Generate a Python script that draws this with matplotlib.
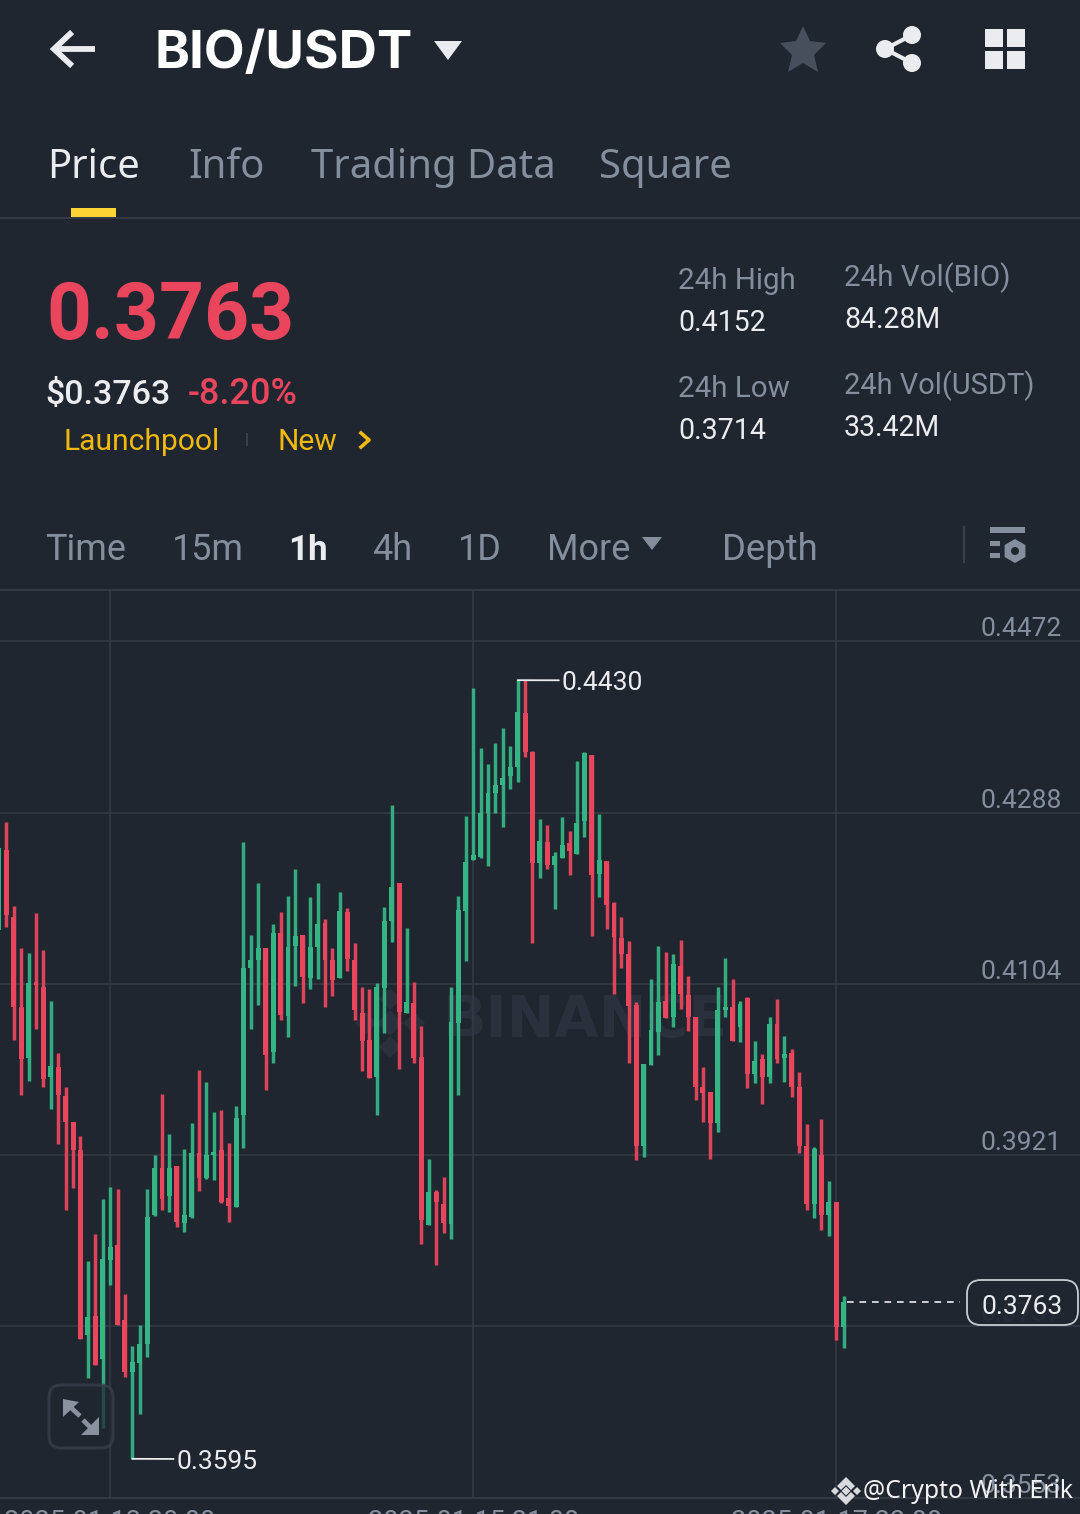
# bio_usdt_chart.py

import matplotlib
matplotlib.use('Agg')
import matplotlib.pyplot as plt
from matplotlib.patches import Polygon, Circle, Rectangle, FancyBboxPatch, RegularPolygon

BG = '#1f2630'
GRID = '#353b46'
RED = '#e9455c'
GREEN = '#35b584'
GREY = '#848e9c'
LIGHT = '#eaecef'
YELLOW = '#f0b90b'
MARK = '#2a313c'
FONT = 'Roboto'
PLEX = 'Noto Sans'

opens = [
    .4162, .4248, .4176, .4080, .4025, .4106, .4101, .4004, .4015, .3984,
    .3956, .3926, .3728, .3748, .3702, .3808, .3824, .3744, .3688, .3698,
    .3718, .3856, .3907, .3877, .3909, .3848, .3854, .3923, .3896, .3921,
    .3926, .3875, .3865, .3964, .4121, .4130, .4143, .4031, .4159, .4070,
    .4145, .4157, .4111, .4144, .4170, .4130, .4111, .4181, .4130, .4073,
    .4044, .4004, .4100, .4172, .4212, .4073, .4084, .4026, .3846, .3881,
    .3868, .3847, .4062, .4183, .4237, .4240, .4288, .4309, .4318, .4327,
    .4337, .4395, .4353, .4234, .4256, .4232, .4239, .4255, .4244, .4279,
    .4350, .4222, .4236, .4191, .4154, .4136, .4082, .3931, .4017, .4053,
    .4086, .4069, .4124, .4092, .4069, .3994, .3988, .3955, .4076, .4079,
    .4058, .4089, .4008, .4024, .4004, .4061, .4025, .4030, .3994, .3930,
    .3868, .3921, .3856, .3870, .3736,
]
closes = [
    .4250, .4178, .4080, .4024, .4105, .4103, .4002, .4016, .3985, .3956,
    .3926, .3724, .3747, .3696, .3809, .3822, .3739, .3688, .3699, .3718,
    .3854, .3907, .3874, .3907, .3849, .3856, .3923, .3896, .3921, .3924,
    .3870, .3866, .3961, .4121, .4130, .4143, .4028, .4159, .4071, .4144,
    .4156, .4112, .4144, .4169, .4130, .4108, .4183, .4131, .4076, .4043,
    .4003, .4101, .4172, .4208, .4074, .4085, .4025, .3851, .3881, .3870,
    .3848, .4063, .4184, .4235, .4243, .4288, .4309, .4318, .4325, .4337,
    .4396, .4353, .4234, .4258, .4232, .4241, .4253, .4247, .4277, .4352,
    .4221, .4237, .4189, .4155, .4136, .4081, .3931, .4018, .4055, .4085,
    .4068, .4126, .4094, .4069, .3994, .3987, .3955, .4076, .4080, .4043,
    .4083, .4008, .4022, .4004, .4061, .4024, .4029, .3994, .3931, .3868,
    .3927, .3856, .3870, .3736, .3763,
]
highs = [
    .4267, .4278, .4188, .4143, .4137, .4180, .4141, .4086, .4030, .3994,
    .3956, .3941, .3807, .3836, .3874, .3886, .3884, .3772, .3716, .3738,
    .3884, .3921, .3986, .3943, .3909, .3927, .3955, .4012, .3999, .3967,
    .3969, .3934, .3973, .4256, .4157, .4213, .4143, .4169, .4181, .4199,
    .4228, .4157, .4198, .4213, .4174, .4143, .4203, .4186, .4148, .4101,
    .4099, .4105, .4187, .4296, .4213, .4164, .4106, .4059, .3916, .3883,
    .3897, .4101, .4199, .4284, .4422, .4357, .4340, .4363, .4379, .4359,
    .4430, .4430, .4354, .4281, .4275, .4246, .4283, .4268, .4343, .4353,
    .4350, .4286, .4236, .4192, .4176, .4150, .4085, .4018, .4110, .4145,
    .4139, .4136, .4151, .4113, .4069, .4015, .3988, .4101, .4132, .4110,
    .4086, .4090, .4043, .4029, .4069, .4088, .4048, .4035, .4010, .3954,
    .3929, .3959, .3893, .3870, .3770,
]
lows = [
    .4118, .4165, .4044, .3985, .4000, .4056, .3994, .3970, .3933, .3862,
    .3885, .3724, .3682, .3696, .3628, .3781, .3739, .3683, .3595, .3643,
    .3704, .3855, .3862, .3860, .3844, .3838, .3853, .3882, .3895, .3894,
    .3869, .3849, .3865, .3928, .4056, .4082, .3990, .4019, .4066, .4047,
    .4102, .4084, .4099, .4110, .4080, .4091, .4111, .4118, .4066, .4011,
    .4003, .3964, .4052, .4149, .4013, .4073, .4019, .3825, .3846, .3803,
    .3837, .3831, .3985, .4129, .4237, .4239, .4231, .4288, .4273, .4313,
    .4321, .4348, .4148, .4218, .4228, .4185, .4239, .4221, .4244, .4262,
    .4156, .4197, .4163, .4094, .4121, .4020, .3915, .3919, .4017, .4028,
    .4068, .4058, .4077, .4054, .3980, .3956, .3916, .3945, .4069, .4043,
    .4042, .3993, .3998, .3976, .3998, .4020, .3999, .3983, .3923, .3862,
    .3853, .3840, .3834, .3722, .3714,
]

price_ticks = [0.4472, 0.4288, 0.4104, 0.3921, 0.3737, 0.3553]
time_tick_idx = [15, 64, 113]
time_tick_labels = ['2025-01-13 20:00', '2025-01-15 21:00', '2025-01-17 22:00']
last_price = 0.3763
high_idx, high_price = 70, 0.4430
low_idx, low_price = 18, 0.3595

fig = plt.figure(figsize=(10.8, 15.14), dpi=100, facecolor=BG)

# watermark sits behind the candles
back = fig.add_axes([0, 0, 1, 1], facecolor=BG, zorder=0)
back.set_xlim(0, 1080)
back.set_ylim(1514, 0)
back.axis('off')
back.text(585, 1021, 'BINANCE', ha='center', va='center', color=MARK, fontsize=41, weight='bold',
          family='DejaVu Sans')
for cx, cy, r in [(390, 1023, 13), (390, 999, 11), (390, 1047, 11), (366, 1023, 11), (414, 1023, 11)]:
    back.add_patch(RegularPolygon((cx, cy), 4, radius=r, color=MARK, lw=0))

# chart area, the page is 1514 px high and the chart runs from 590 to 1498
ax = fig.add_axes([0, 16 / 1514, 1, 908 / 1514], facecolor='none', zorder=1)
ax.set_xlim(0.139, 145.89)
ax.set_ylim(0.3553, 0.45267)
for s in ['left', 'right']:
    ax.spines[s].set_visible(False)
for s in ['top', 'bottom']:
    ax.spines[s].set_color(GRID)
    ax.spines[s].set_linewidth(1.4)
ax.set_xticks([])
ax.set_yticks([])

for p in price_ticks:
    ax.axhline(p, color=GRID, lw=1.1, zorder=1)
    ax.annotate(f'{p:.4f}', xy=(1, p), xycoords=('axes fraction', 'data'),
                xytext=(-18, 12), textcoords='offset pixels', ha='right', va='center',
                color=GREY, fontsize=19, family=FONT, zorder=2)
for i in time_tick_idx:
    ax.axvline(i, color=GRID, lw=1.1, zorder=1)

for i in range(len(opens)):
    col = GREEN if closes[i] >= opens[i] else RED
    ax.vlines(i, lows[i], highs[i], color=col, lw=2.5, zorder=3, alpha=0.95)
    ax.bar(i, abs(closes[i] - opens[i]), bottom=min(opens[i], closes[i]), width=0.66, color=col, zorder=3)

# high, low and last price marks
for idx, p in [(high_idx, high_price), (low_idx, low_price)]:
    ax.annotate(f'{p:.4f}', xy=(idx, p), xytext=(44, -3), textcoords='offset pixels',
                color=LIGHT, fontsize=19, family=FONT, va='center', zorder=5,
                arrowprops=dict(arrowstyle='-', color=LIGHT, lw=1.3, shrinkA=0, shrinkB=0,
                                relpos=(0, 0.62)))
ax.plot([len(opens) - 0.5, 129.7], [last_price, last_price], color=LIGHT, lw=1.2, ls=(0, (4, 3.5)), zorder=4)

# cut off time labels along the bottom edge
for i, t in zip(time_tick_idx, time_tick_labels):
    ax.annotate(t, xy=(i, 0), xycoords=('data', 'axes fraction'), xytext=(0, -25), textcoords='offset pixels',
                ha='center', va='center', color=GREY, fontsize=19.5, family=FONT, annotation_clip=False)

# everything else on a page overlay in pixel coordinates
ui = fig.add_axes([0, 0, 1, 1], facecolor='none', zorder=2)
ui.set_xlim(0, 1080)
ui.set_ylim(1514, 0)
ui.axis('off')


def label(x, y, s, px, color=GREY, weight='normal', ha='left', family=FONT):
    ui.text(x, y + 2, s, fontsize=px * 0.72, color=color, weight=weight, ha=ha, va='center', family=family)


def poly(points, color, z=3):
    ui.add_patch(Polygon(points, closed=True, color=color, lw=0, zorder=z))


# header
ui.plot([56, 95], [49, 49], color=LIGHT, lw=4.2, solid_capstyle='butt')
ui.plot([70, 54, 70], [34, 49, 64], color=LIGHT, lw=4.2, solid_joinstyle='miter')
label(154, 53, 'BIO/USDT', 53, 'white', 'bold', family='Inter')
poly([(434, 41), (462, 41), (448, 60)], LIGHT)

poly([(803, 26), (810, 41), (826, 43), (814, 55), (818, 72), (803, 63),
      (788, 72), (792, 55), (780, 43), (796, 41)], '#474f5c')
ui.plot([912, 885, 912], [35, 49, 63], color=LIGHT, lw=3)
for cx, cy in [(912, 35), (885, 49), (912, 63)]:
    ui.add_patch(Circle((cx, cy), 9, color=LIGHT, lw=0))
for x0 in [985, 1007]:
    for y0 in [29, 51]:
        ui.add_patch(Rectangle((x0, y0), 18, 18, color=LIGHT, lw=0))

# tabs
label(47, 166, 'Price', 40, LIGHT, 'medium', family=PLEX)
label(188, 166, 'Info', 40, family=PLEX)
label(311, 166, 'Trading Data', 40, family=PLEX)
label(599, 166, 'Square', 40, family=PLEX)
ui.add_patch(Rectangle((71, 208), 45, 9, color='#fcd535', lw=0))
ui.plot([0, 1080], [218, 218], color=GRID, lw=1.4)

# price block
label(46, 315, '0.3763', 78.5, RED, 'bold')
label(45, 393, '$0.3763', 34, LIGHT, 'medium')
label(188, 393, '-8.20%', 36, RED, 'medium')
label(64, 440, 'Launchpool', 30, YELLOW)
ui.plot([247, 247], [434, 445], color='#3a404b', lw=1.4)
label(277, 440, 'New', 30, YELLOW)
ui.plot([361, 369, 361], [433, 440, 447], color=YELLOW, lw=2.6)

label(678, 279, '24h High', 29.5)
label(678, 321, '0.4152', 28.5, LIGHT)
label(844, 276, '24h Vol(BIO)', 29.5)
label(844, 318, '84.28M', 28.5, LIGHT)
label(678, 387, '24h Low', 29.5)
label(678, 429, '0.3714', 28.5, LIGHT)
label(844, 384, '24h Vol(USDT)', 29)
label(844, 426, '33.42M', 28.5, LIGHT)

# interval row
label(45, 548, 'Time', 36)
label(172, 548, '15m', 36)
label(288, 548, '1h', 35, LIGHT, 'bold')
label(372, 548, '4h', 36)
label(458, 548, '1D', 36)
label(547, 548, 'More', 36)
poly([(642, 537), (662, 537), (652, 550)], GREY)
label(722, 548, 'Depth', 36.5)
ui.plot([964, 964], [527, 562], color='#3a404b', lw=1.6)
ui.add_patch(Rectangle((990, 527), 35, 6, color=GREY, lw=0))
ui.add_patch(Rectangle((990, 541), 10, 5, color=GREY, lw=0))
ui.add_patch(Rectangle((990, 553), 10, 5, color=GREY, lw=0))
ui.add_patch(RegularPolygon((1015, 551), 6, radius=12, color=GREY, lw=0))
ui.add_patch(Circle((1015, 551), 4, color=BG, lw=0, zorder=4))

# last price box
ui.add_patch(FancyBboxPatch((981, 1294), 83, 17, boxstyle='round,pad=14,rounding_size=14',
                            fc=BG, ec='#d5d9de', lw=1.3, alpha=0.93, zorder=4))
ui.text(1022, 1307, '0.3763', fontsize=19, color=LIGHT, ha='center', va='center', family=FONT, zorder=5)

# expand button
ui.add_patch(FancyBboxPatch((59, 1395), 44, 43, boxstyle='round,pad=10,rounding_size=12',
                            fc=BG, ec='#3a404b', lw=2.2, alpha=0.75, zorder=4))
poly([(63, 1399), (79, 1402), (63, 1417)], '#8a92a0', 5)
poly([(99, 1417), (99, 1435), (81, 1435)], '#8a92a0', 5)
ui.plot([68, 80], [1405, 1416], color='#8a92a0', lw=3.4, zorder=5, solid_capstyle='butt')
ui.plot([83, 93], [1420, 1430], color='#8a92a0', lw=3.4, zorder=5, solid_capstyle='butt')

# author mark
poly([(846, 1477), (855, 1486), (851, 1490), (846, 1485), (841, 1490), (837, 1486)], '#d8dadd', 6)
poly([(846, 1505), (855, 1496), (851, 1492), (846, 1497), (841, 1492), (837, 1496)], '#d8dadd', 6)
for cx, r in [(835, 4), (846, 4.5), (857, 4)]:
    ui.add_patch(RegularPolygon((cx, 1491), 4, radius=r, color='#d8dadd', lw=0, zorder=6))
ui.text(863, 1492, '@Crypto With Erik', fontsize=24.8 * 0.72, color='#f2f2f2', ha='left', va='center',
        family=PLEX, zorder=6)

fig.savefig('out.png', dpi=100, facecolor=BG)
